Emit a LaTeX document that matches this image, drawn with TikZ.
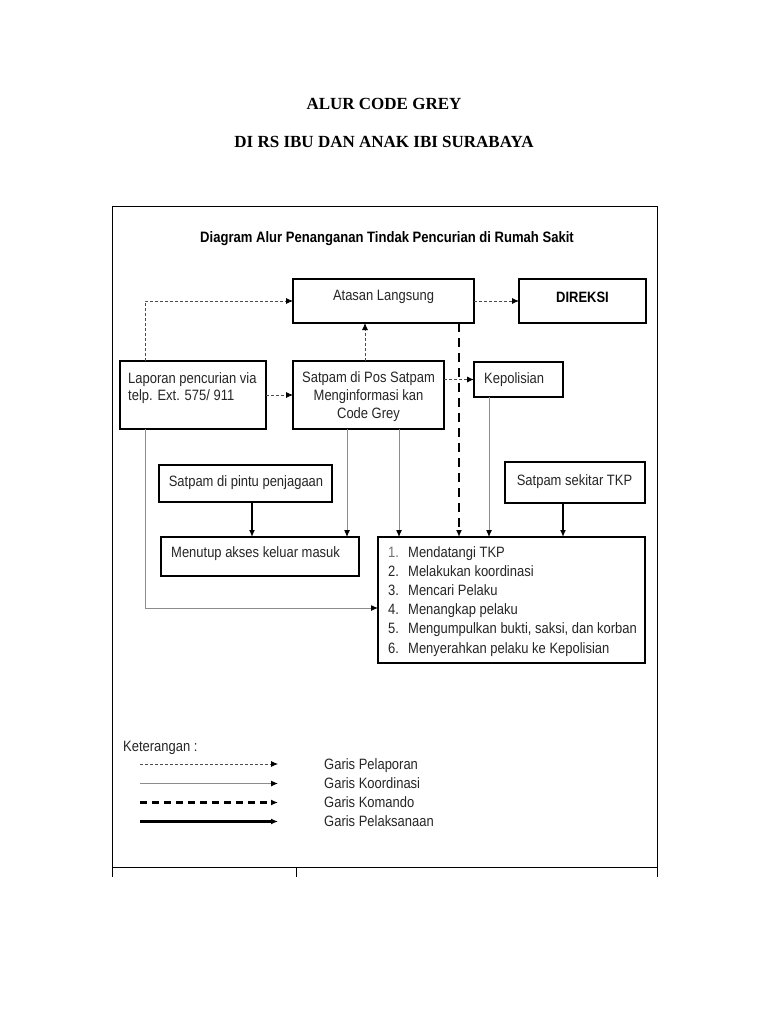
\documentclass[tikz,border=0pt]{standalone}
\usepackage{fontspec}
\setmainfont{Liberation Serif}
\newfontfamily\arialfont[FakeStretch=0.865]{Liberation Sans}
\usepackage{tikz}
\usetikzlibrary{arrows.meta}
\tikzset{
    kotak/.style={draw=black, line width=1.1pt, inner sep=0pt, outer sep=0pt},
    teks/.style={font=\arialfont\fontsize{15}{18}\selectfont, text=black!85, inner sep=0pt},
    judul/.style={font=\bfseries\fontsize{17}{20}\selectfont, inner sep=0pt},
    lapor/.style={->, draw=black!70, line width=0.8pt, dash pattern=on 3pt off 2pt},
    koord/.style={->, draw=black!45, line width=1pt},
    komando/.style={->, draw=black, line width=2.2pt, dash pattern=on 9pt off 6pt},
    laksana/.style={->, draw=black, line width=2.2pt}}
\newcommand{\nomor}[1]{\makebox[20pt][l]{#1}}

\begin{document}
\begin{tikzpicture}[x=1pt, y=-1pt, >={Latex[length=7pt,width=6pt,color=black]}]

            \path[use as bounding box, fill=white] (0,0) rectangle (768,1024);

            \node[judul, anchor=base] (J1) at (384,110) {ALUR CODE GREY};
            \node[judul, anchor=base] (J2) at (384,148) {DI RS IBU DAN ANAK IBI SURABAYA};

            \draw[line width=1pt] (112,877) |- (657,207) -- (657,877);
            \draw[line width=1pt] (112,867) -- (657,867);
            \draw[line width=0.8pt] (296,867) -- (296,877);

            \node[teks, font=\arialfont\bfseries\fontsize{15.1}{18}\selectfont, text=black, anchor=base] (DT) at (387,242) {Diagram Alur Penanganan Tindak Pencurian di Rumah Sakit};

            \node[kotak, minimum width=181pt, minimum height=44pt] (AL) at (383.5,301) {};
            \node[kotak, minimum width=127pt, minimum height=44pt] (DR) at (582.5,301) {};
            \node[kotak, minimum width=146pt, minimum height=68pt] (LP) at (193,395) {};
            \node[kotak, minimum width=151pt, minimum height=68pt] (SP) at (368.5,395) {};
            \node[kotak, minimum width=89pt, minimum height=35pt] (KP) at (518.5,379.5) {};
            \node[kotak, minimum width=173pt, minimum height=37pt] (PJ) at (245.5,483.5) {};
            \node[kotak, minimum width=140pt, minimum height=41pt] (ST) at (575,482.5) {};
            \node[kotak, minimum width=198pt, minimum height=39pt] (MA) at (260,556.5) {};
            \node[kotak, minimum width=267pt, minimum height=126pt] (TG) at (511.5,600) {};

            \node[teks, anchor=base] (ALt) at (383.5,300) {Atasan Langsung};
            \node[teks, font=\arialfont\bfseries\fontsize{15}{18}\selectfont, text=black, anchor=base] (DRt) at (582.5,302) {DIREKSI};
            \node[teks, font=\arialfont\fontsize{15}{17}\selectfont, anchor=base west, align=left] (LPt) at (128,400) {Laporan pencurian via\\telp. Ext. 575/ 911};
            \node[teks, anchor=base, align=center] (SPt) at (368.5,418) {Satpam di Pos Satpam\\Menginformasi kan\\Code Grey};
            \node[teks, anchor=base west] (KPt) at (484,383) {Kepolisian};
            \node[teks, anchor=base] (PJt) at (246,486) {Satpam di pintu penjagaan};
            \node[teks, anchor=base] (STt) at (574.5,485) {Satpam sekitar TKP};
            \node[teks, anchor=base west] (MAt) at (171,557) {Menutup akses keluar masuk};
            \node[teks, font=\arialfont\fontsize{15}{19.2}\selectfont, anchor=base west, align=left] (TGt) at (388,653) {\nomor{\textcolor{black!55}{1.}}Mendatangi TKP\\\nomor{2.}Melakukan koordinasi\\\nomor{3.}Mencari Pelaku\\\nomor{4.}Menangkap pelaku\\\nomor{5.}Mengumpulkan bukti, saksi, dan korban\\\nomor{6.}Menyerahkan pelaku ke Kepolisian};

            \coordinate (xa) at (145,0);
            \coordinate (xb) at (347,0);
            \coordinate (xc) at (365,0);
            \coordinate (xd) at (399,0);
            \coordinate (xe) at (459,0);
            \coordinate (xf) at (489,0);
            \coordinate (xg) at (252,0);
            \coordinate (xh) at (563,0);
            \coordinate (yb) at (0,608);

            \draw[lapor] (LP.north -| xa) |- (AL.west);
            \draw[lapor] (LP.east) -- (SP.west);
            \draw[lapor] (SP.north -| xc) -- (AL.south -| xc);
            \draw[lapor] (AL.east) -- (DR.west);
            \draw[lapor] (SP.east |- KP.west) -- (KP.west);
            \draw[komando] (AL.south -| xe) -- (TG.north -| xe);
            \draw[koord] (LP.south -| xa) |- (TG.west |- yb);
            \draw[koord] (SP.south -| xb) -- (MA.north -| xb);
            \draw[koord] (SP.south -| xd) -- (TG.north -| xd);
            \draw[koord] (KP.south -| xf) -- (TG.north -| xf);
            \draw[laksana] (PJ.south -| xg) -- (MA.north -| xg);
            \draw[laksana] (ST.south -| xh) -- (TG.north -| xh);

            \node[teks, anchor=base west] (KT) at (123,751) {Keterangan :};
            \coordinate (L1a) at (140,764);
            \coordinate (L1b) at (278,764);
            \coordinate (L2a) at (140,783.5);
            \coordinate (L2b) at (278,783.5);
            \coordinate (L3a) at (140,802.5);
            \coordinate (L3b) at (278,802.5);
            \coordinate (L4a) at (140,821.5);
            \coordinate (L4b) at (278,821.5);
            \draw[lapor] (L1a) -- (L1b);
            \draw[koord] (L2a) -- (L2b);
            \draw[komando, dash pattern=on 7pt off 5pt] (L3a) -- (L3b);
            \draw[laksana] (L4a) -- (L4b);
            \node[teks, anchor=base west] (G1) at (324,769) {Garis Pelaporan};
            \node[teks, anchor=base west] (G2) at (324,788.5) {Garis Koordinasi};
            \node[teks, anchor=base west] (G3) at (324,807.5) {Garis Komando};
            \node[teks, anchor=base west] (G4) at (324,826.5) {Garis Pelaksanaan};

        \end{tikzpicture}
\end{document}
